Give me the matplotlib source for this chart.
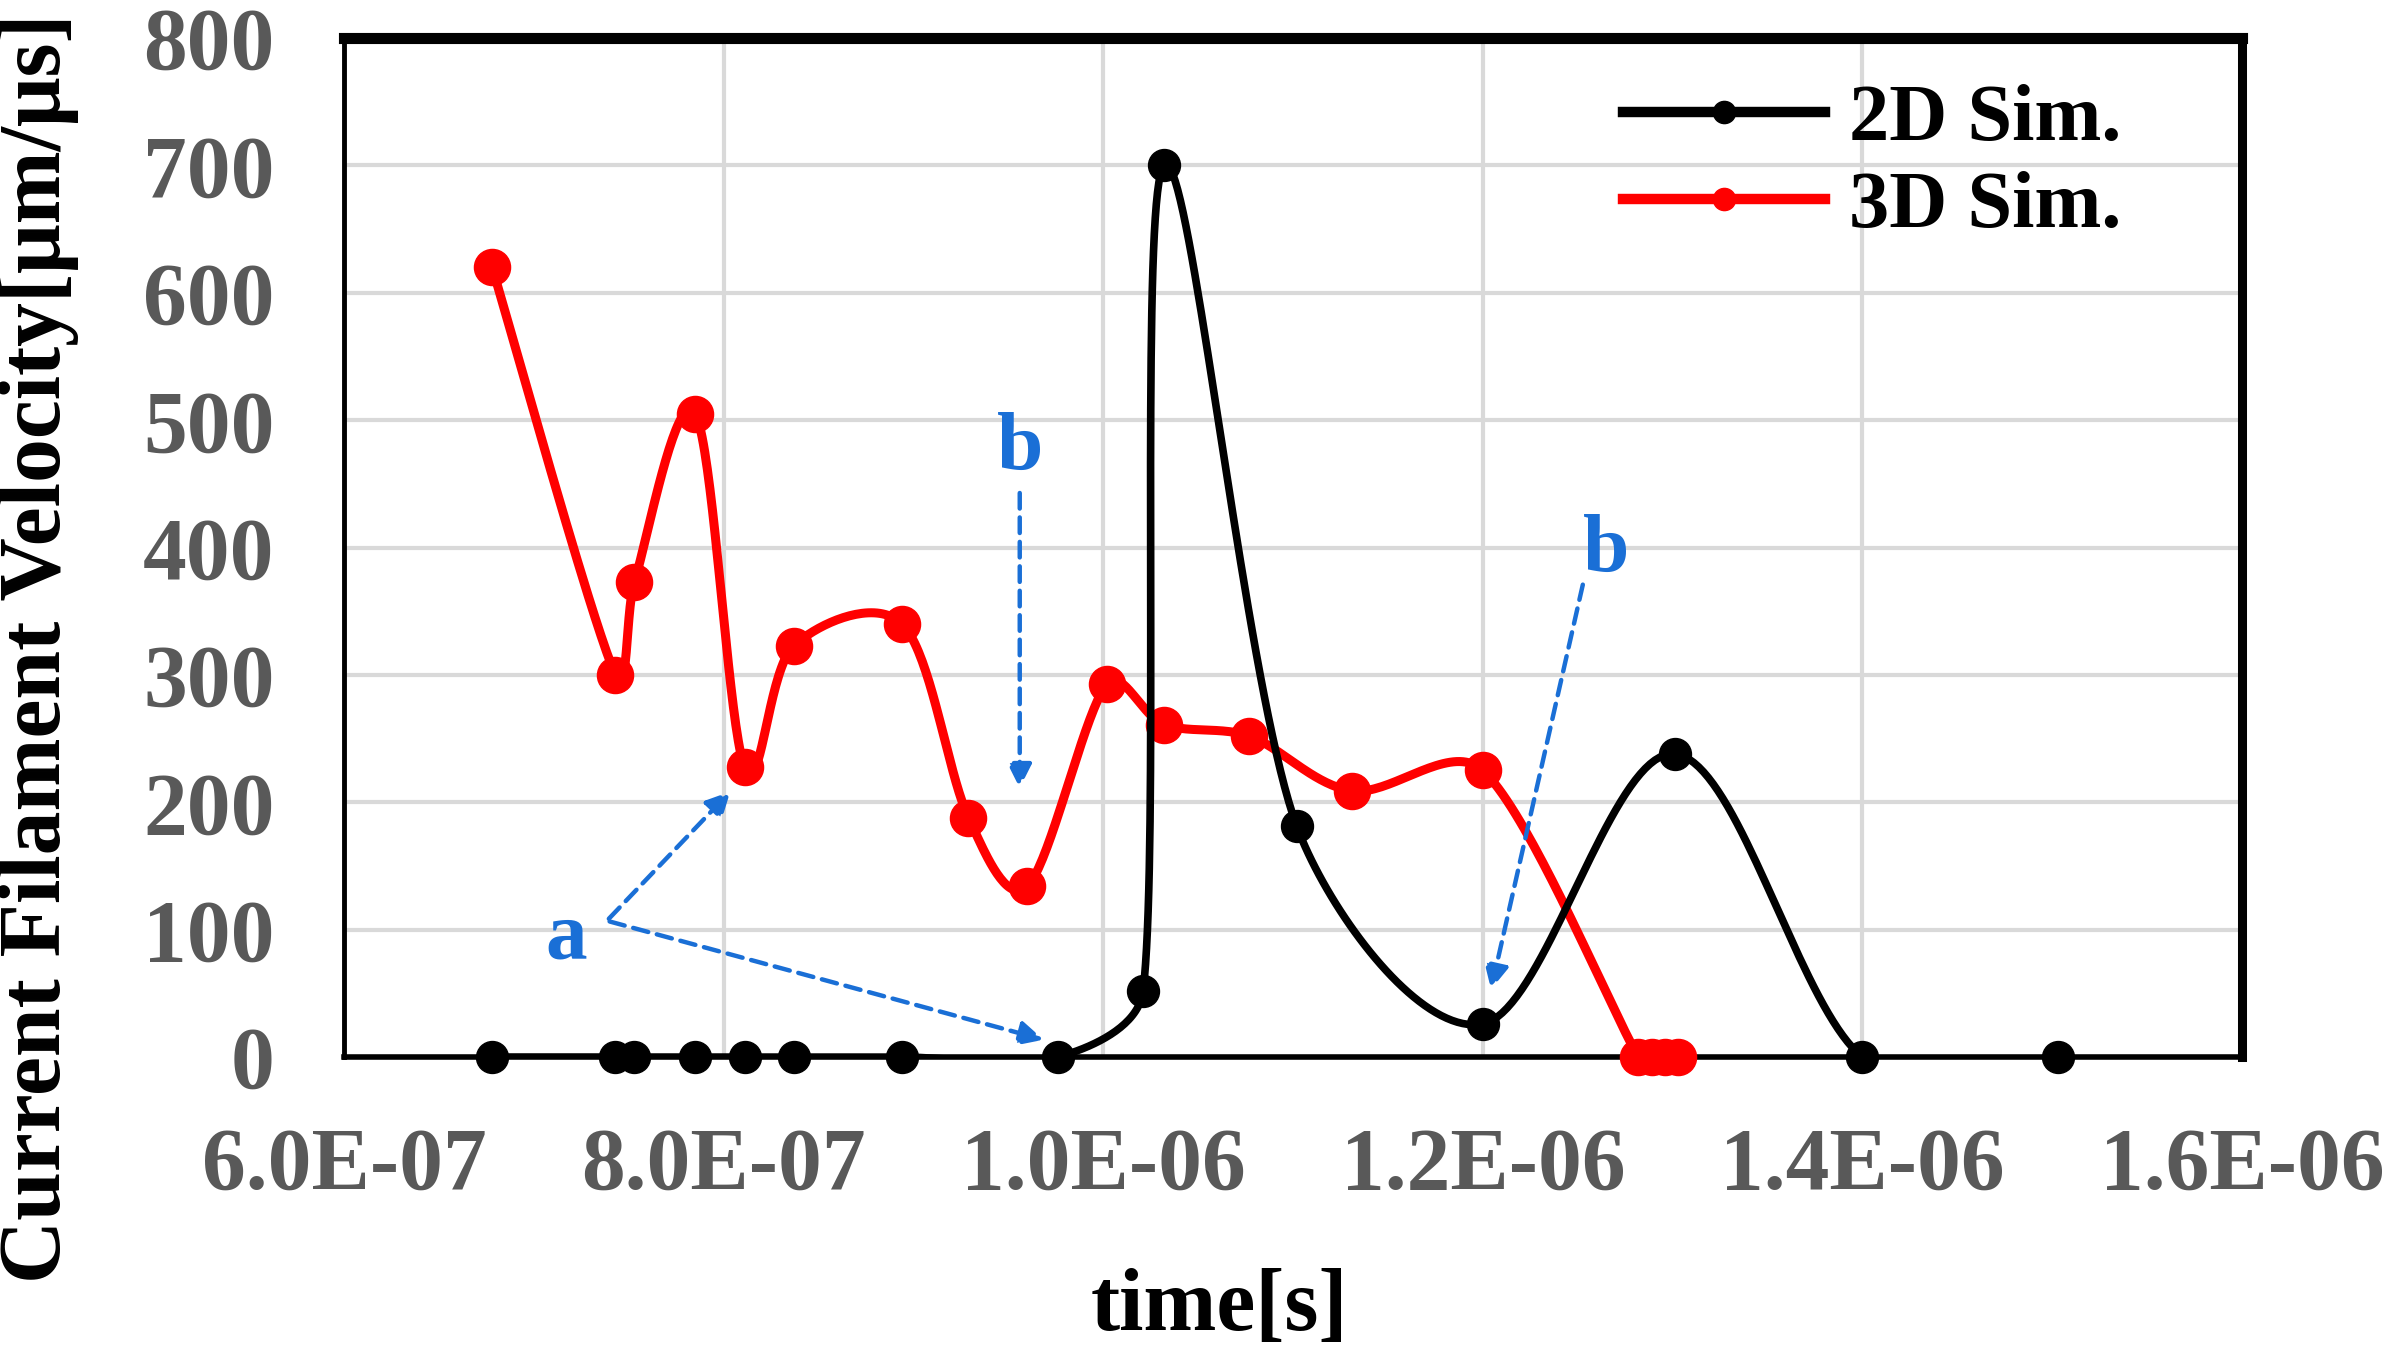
import numpy as np
import matplotlib.pyplot as plt
from matplotlib.lines import Line2D
from matplotlib.ticker import FuncFormatter, MultipleLocator

# 3D simulation (red)
t_3d = [6.78e-7, 7.43e-7, 7.53e-7, 7.85e-7, 8.11e-7, 8.37e-7, 8.94e-7, 9.29e-7,
        9.60e-7, 1.002e-6, 1.032e-6, 1.077e-6, 1.131e-6, 1.200e-6,
        1.282e-6, 1.289e-6, 1.296e-6, 1.303e-6]
v_3d = [620, 300, 373, 505, 228, 323, 340, 188, 134, 293, 261, 252, 209, 225,
        0, 0, 0, 0]

# 2D simulation (black)
t_2d = [6.78e-7, 7.43e-7, 7.53e-7, 7.85e-7, 8.11e-7, 8.37e-7, 8.94e-7, 9.76e-7,
        1.021e-6, 1.032e-6, 1.102e-6, 1.200e-6, 1.301e-6, 1.400e-6, 1.503e-6]
v_2d = [0, 0, 0, 0, 0, 0, 0, 0, 52, 700, 181, 26, 238, 0, 0]

XMIN, XMAX = 6e-7, 1.6e-6
YMAX = 800
AX_W, AX_H = 1898, 1019
BLUE = '#1a6fd6'
FONT = 'Liberation Serif'


def smooth(xs, ys, n=40):
    # excel-like smoothed line (catmull-rom bezier in screen units, arms capped)
    sx = (np.array(xs) - XMIN) / (XMAX - XMIN) * AX_W
    sy = np.array(ys, dtype=float) / YMAX * AX_H
    p = np.column_stack([sx, sy])
    p = np.vstack([p[0], p, p[-1]])
    tt = np.linspace(0, 1, n)[:, None]
    out = []
    for i in range(1, len(p) - 2):
        p0, p3 = p[i], p[i + 1]
        L = np.hypot(*(p3 - p0)) / 3
        a1 = (p[i + 1] - p[i - 1]) / 6
        a2 = (p[i + 2] - p[i]) / 6
        if np.hypot(*a1) > L:
            a1 = a1 / np.hypot(*a1) * L
        if np.hypot(*a2) > L:
            a2 = a2 / np.hypot(*a2) * L
        p1 = p0 + a1
        p2 = p3 - a2
        seg = (1 - tt) ** 3 * p0 + 3 * (1 - tt) ** 2 * tt * p1 + 3 * (1 - tt) * tt ** 2 * p2 + tt ** 3 * p3
        out.append(seg)
    out = np.vstack(out)
    return out[:, 0] / AX_W * (XMAX - XMIN) + XMIN, out[:, 1] / AX_H * YMAX


fig = plt.figure(figsize=(23.91, 13.59), dpi=100)
ax = fig.add_axes([0.1439, 0.2222, 0.7938, 0.7498])

ax.set_xlim(XMIN, XMAX)
ax.set_ylim(0, YMAX)
ax.xaxis.set_major_locator(MultipleLocator(2e-7))
ax.yaxis.set_major_locator(MultipleLocator(100))
ax.xaxis.set_major_formatter(FuncFormatter(lambda v, p: f"{v:.1E}"))
ax.grid(True, color='#d9d9d9', lw=3)
ax.set_axisbelow(True)
ax.tick_params(length=0, pad=50, labelcolor='#595959', labelsize=63)
for lab in ax.get_xticklabels() + ax.get_yticklabels():
    lab.set_family(FONT)
    lab.set_weight('bold')

for side, lw in [('top', 8), ('right', 6.5), ('left', 3.5), ('bottom', 4)]:
    ax.spines[side].set_linewidth(lw)
    ax.spines[side].set_color('black')

xs, ys = smooth(t_3d, v_3d)
ax.plot(xs, ys, color='red', lw=6.5, zorder=3, solid_capstyle='round')
ax.plot(t_3d, v_3d, 'o', color='red', ms=26, zorder=4, clip_on=False)

xs, ys = smooth(t_2d, v_2d)
ax.plot(xs, ys, color='black', lw=5.5, zorder=5, solid_capstyle='round')
ax.plot(t_2d, v_2d, 'o', color='black', ms=23, zorder=6, clip_on=False)

# annotations
arrow = dict(arrowstyle='-|>', linestyle=(0, (3.5, 2)), color=BLUE, lw=3.2, mutation_scale=36)
ax.annotate('', xy=(8.045e-7, 210), xytext=(7.385e-7, 107), arrowprops=arrow, zorder=7)
ax.annotate('', xy=(9.70e-7, 13), xytext=(7.385e-7, 107), arrowprops=arrow, zorder=7)
ax.annotate('', xy=(9.56e-7, 209), xytext=(9.56e-7, 445), arrowprops=arrow, zorder=7)
ax.annotate('', xy=(1.204e-6, 51), xytext=(1.253e-6, 373), arrowprops=arrow, zorder=7)
txt = dict(color=BLUE, fontsize=60, family=FONT, weight='bold', ha='center', va='center', zorder=7)
ax.text(7.17e-7, 93, 'a', **txt)
ax.text(9.56e-7, 477, 'b', **txt)
ax.text(1.265e-6, 397, 'b', **txt)

handles = [Line2D([], [], color='black', lw=7.5, marker='o', ms=16),
           Line2D([], [], color='red', lw=7.5, marker='o', ms=16)]
ax.legend(handles, ['2D Sim.', '3D Sim.'], loc='upper left', bbox_to_anchor=(0.674, 0.955),
          frameon=False, borderpad=0, borderaxespad=0, handlelength=2.5, handletextpad=0.3,
          labelspacing=0.17, prop={'family': FONT, 'weight': 'bold', 'size': 58})

fig.text(0.016, 1 - 648 / 1359, 'Current Filament Velocity[μm/μs]', rotation=90,
         ha='center', va='center', fontsize=63, family=FONT, weight='bold')
fig.text(0.510, 0.0375, 'time[s]', ha='center', va='center', fontsize=63,
         family=FONT, weight='bold')

fig.savefig('out.png', dpi=100)
